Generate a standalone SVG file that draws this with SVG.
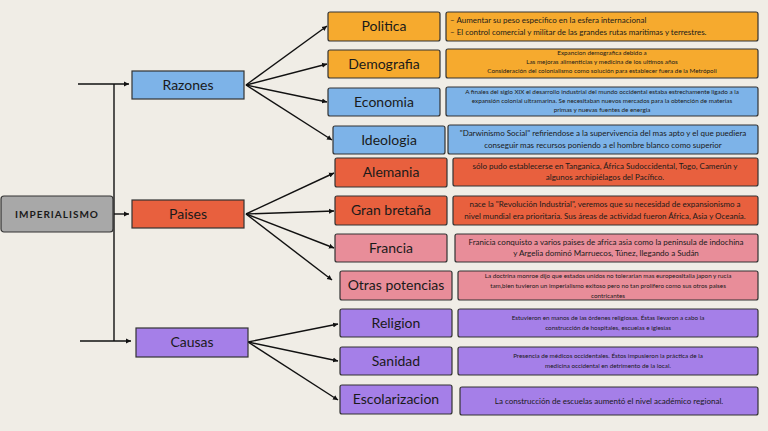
<svg xmlns="http://www.w3.org/2000/svg" width="768" height="431" viewBox="0 0 768 431">
<defs><marker id="a" markerWidth="6" markerHeight="6" refX="5" refY="3" orient="auto" markerUnits="userSpaceOnUse"><path d="M0,0.5 L5,3 L0,5.5z" fill="#111"/></marker></defs>
<style>
.b{stroke:#333;stroke-width:1.2}
.t{font-family:Lato,"Liberation Sans",sans-serif;fill:#1a1a1a;text-anchor:middle}
.n{font-size:14px}
.d{font-size:8px}
.s{font-size:6.3px}
.l{stroke:#111;stroke-width:1.4;fill:none;marker-end:url(#a)}
.o{fill:#f6aa2e}.bl{fill:#7db3e8}.r{fill:#e8603e}.p{fill:#e88d99}.v{fill:#a57fe8}
</style>
<rect width="768" height="431" fill="#f0ede6"/>
<g id="connectors">
<path d="M114,84 V341" stroke="#111" stroke-width="1.4"/>
<path class="l" d="M78,84 H129"/><path class="l" d="M80,341 H131"/><path class="l" d="M114,214 H129"/>
<path class="l" d="M246,85 L327,26"/><path class="l" d="M246,85 L327,64"/><path class="l" d="M246,85 L327,102"/><path class="l" d="M246,85 L332,140"/>
<path class="l" d="M246,214 L334,173"/><path class="l" d="M246,214 L334,211"/><path class="l" d="M246,214 L334,248"/><path class="l" d="M246,214 L332,280"/>
<path class="l" d="M248,342 L338,324"/><path class="l" d="M248,342 L338,361"/><path class="l" d="M248,342 L338,400"/>
</g>
<g id="imperialismo"><rect x="1" y="196" width="112" height="36" rx="3" fill="#a8a8a8" class="b"/><text class="t" x="57" y="218" font-size="10" font-weight="bold" letter-spacing="1">IMPERIALISMO</text></g>
<g id="razones"><rect class="b bl" x="132" y="71" width="112" height="28"/><text class="t n" x="188" y="90">Razones</text></g>
<g id="paises"><rect class="b r" x="132" y="200" width="112" height="28"/><text class="t n" x="188" y="219">Paises</text></g>
<g id="causas"><rect class="b v" x="136" y="328" width="112" height="29"/><text class="t n" x="192" y="347">Causas</text></g>

<g id="politica"><rect class="b o" x="328" y="12" width="112" height="29" rx="2"/><text class="t n" x="384" y="31">Politica</text>
<rect class="b o" x="446" y="12" width="312" height="29" rx="2"/><text class="t d" x="450" y="23" style="text-anchor:start">– Aumentar su peso especifico en la esfera internacional</text><text class="t d" x="450" y="35" style="text-anchor:start">– El control comercial y militar de las grandes rutas maritimas y terrestres.</text></g>
<g id="demografia"><rect class="b o" x="328" y="50" width="112" height="28" rx="2"/><text class="t n" x="384" y="69">Demografia</text>
<rect class="b o" x="446" y="49" width="312" height="29" rx="2"/><text class="t s" font-size="7" x="602" y="55">Expancion demografica debido a</text><text class="t s" font-size="7" x="602" y="64">Las mejoras alimenticias y medicina de los ultimos años</text><text class="t s" font-size="7" x="602" y="73">Consideración del colonialismo como solución para establecer fuera de la Metrópoli</text></g>
<g id="economia"><rect class="b bl" x="328" y="88" width="112" height="28" rx="2"/><text class="t n" x="384" y="107">Economia</text>
<rect class="b bl" x="446" y="87" width="312" height="29" rx="2"/><text class="t s" x="602" y="94">A finales del siglo XIX el desarrollo industrial del mundo occidental estaba estrechamente ligado a la</text><text class="t s" x="602" y="103">expansión colonial ultramarina. Se necesitaban nuevos mercados para la obtención de materias</text><text class="t s" x="602" y="112">primas y nuevas fuentes de energia</text></g>
<g id="ideologia"><rect class="b bl" x="333" y="126" width="112" height="28" rx="2"/><text class="t n" x="389" y="145">Ideologia</text>
<rect class="b bl" x="448" y="125" width="310" height="29" rx="2"/><text class="t d" font-size="7.5" x="603" y="136">"Darwinismo Social" refiriendose a la supervivencia del mas apto y el que puediera</text><text class="t d" font-size="7.5" x="603" y="148">conseguir mas recursos poniendo a el hombre blanco como superior</text></g>
<g id="alemania"><rect class="b r" x="335" y="158" width="112" height="29" rx="2"/><text class="t n" x="391" y="177">Alemania</text>
<rect class="b r" x="453" y="158" width="305" height="28" rx="2"/><text class="t d" font-size="7.5" x="605" y="169">sólo pudo establecerse en Tanganica, África Sudoccidental, Togo, Camerún y</text><text class="t d" font-size="7.5" x="605" y="180">algunos archipiélagos del Pacífico.</text></g>
<g id="granbretana"><rect class="b r" x="335" y="196" width="112" height="29" rx="2"/><text class="t n" x="391" y="215">Gran bretaña</text>
<rect class="b r" x="453" y="196" width="305" height="29" rx="2"/><text class="t d" font-size="7.5" x="605" y="207">nace la "Revolución Industrial", veremos que su necesidad de expansionismo a</text><text class="t d" font-size="7.5" x="605" y="219">nivel mundial era prioritaria. Sus áreas de actividad fueron África, Asia y Oceanía.</text></g>
<g id="francia"><rect class="b p" x="335" y="234" width="112" height="28" rx="2"/><text class="t n" x="391" y="253">Francia</text>
<rect class="b p" x="455" y="234" width="303" height="28" rx="2"/><text class="t d" font-size="7.5" x="606" y="245">Franicia conquisto a varios paises de africa asia como la peninsula de indochina</text><text class="t d" font-size="7.5" x="606" y="256">y Argelia dominó Marruecos, Túnez, llegando a Sudán</text></g>
<g id="otras"><rect class="b p" x="340" y="271" width="112" height="29" rx="2"/><text class="t n" x="396" y="290">Otras potencias</text>
<rect class="b p" x="458" y="271" width="300" height="29" rx="2"/><text class="t s" x="608" y="278">La doctrina monroe dijo que estados unidos no tolerarian mas europeosItalia japon y rucia</text><text class="t s" x="608" y="288">tam,bien tuvieron un imperialismo exitoso pero no tan prolifero como sus otros paises</text><text class="t s" x="608" y="298">contricantes</text></g>
<g id="religion"><rect class="b v" x="340" y="309" width="112" height="28" rx="2"/><text class="t n" x="396" y="328">Religion</text>
<rect class="b v" x="458" y="309" width="300" height="28" rx="2"/><text class="t s" font-size="7" x="608" y="320">Estuvieron en manos de las órdenes religiosas. Éstas llevaron a cabo la</text><text class="t s" font-size="7" x="608" y="330">construcción de hospitales, escuelas e iglesias</text></g>
<g id="sanidad"><rect class="b v" x="340" y="347" width="112" height="28" rx="2"/><text class="t n" x="396" y="366">Sanidad</text>
<rect class="b v" x="458" y="347" width="300" height="28" rx="2"/><text class="t s" font-size="7" x="608" y="358">Presencia de médicos occidentales. Éstos impusieron la práctica de la</text><text class="t s" font-size="7" x="608" y="368">medicina occidental en detrimento de la local.</text></g>
<g id="escolarizacion"><rect class="b v" x="340" y="385" width="112" height="29" rx="2"/><text class="t n" x="396" y="404">Escolarizacion</text>
<rect class="b v" x="460" y="387" width="298" height="28" rx="2"/><text class="t d" font-size="7.5" x="609" y="404">La construcción de escuelas aumentó  el nivel académico regional.</text></g>
</svg>
